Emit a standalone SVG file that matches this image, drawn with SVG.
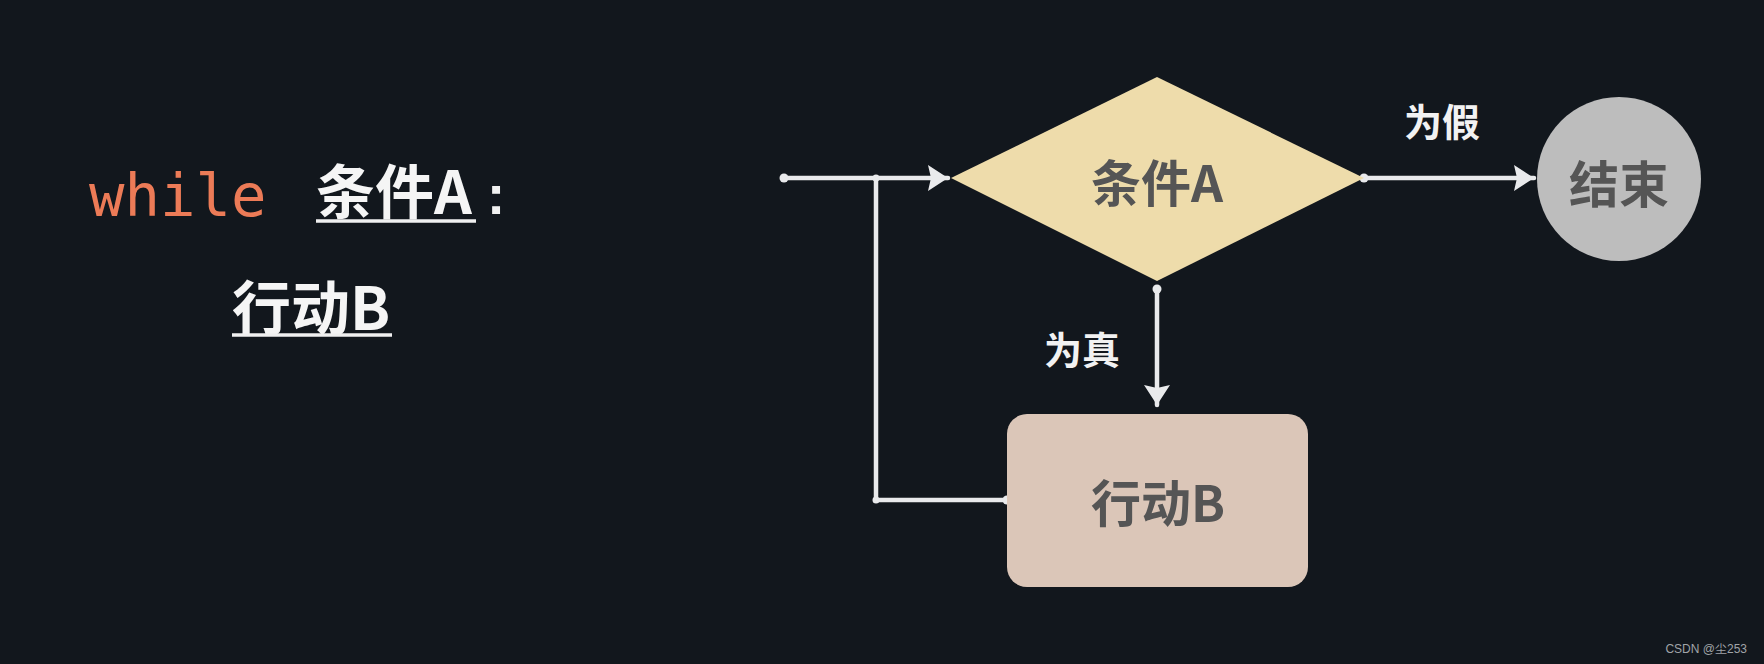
<svg xmlns="http://www.w3.org/2000/svg" width="1764" height="664" viewBox="0 0 1764 664">
<style>
.cjk{font-family:"Noto Sans CJK SC","Noto Sans",sans-serif;font-weight:700}
.node{fill:#555;font-size:50px;text-anchor:middle}
.lbl{fill:#f2f2f2;font-size:38px;text-anchor:middle}
.code{fill:#f5f5f5;font-size:59px;font-weight:700}
.conn{stroke:#e9eaec;stroke-width:4.5;fill:none;stroke-linecap:round;stroke-linejoin:round}
.dot{fill:#e9eaec}
.ul{stroke:#f0f0f0;stroke-width:3.5}
</style>
<defs>
<marker id="ah" viewBox="0 0 20 26" refX="20" refY="13" markerWidth="20" markerHeight="26" markerUnits="userSpaceOnUse" orient="auto">
<path d="M0,0 L20,13 L0,26 L3,13 Z" fill="#e9eaec"/>
</marker>
</defs>
<rect width="1764" height="664" fill="#12171d"/>
<g id="code">
<text x="89" y="216" font-family="'DejaVu Sans Mono',monospace" font-size="59" fill="#ec7b57">while</text>
<text class="cjk code" x="316" y="214">条件A</text>
<line class="ul" x1="316" y1="221" x2="476" y2="221"/>
<text x="496" y="214" font-family="'Liberation Sans',sans-serif" font-size="56" font-weight="700" fill="#f0f0f0" text-anchor="middle">:</text>
<text class="cjk code" x="232" y="330">行动B</text>
<line class="ul" x1="232" y1="335" x2="392" y2="335"/>
</g>
<g id="connectors">
<path class="conn" d="M784,178 L948,178" marker-end="url(#ah)"/>
<circle class="dot" cx="784" cy="178" r="4.5"/>
<path class="conn" d="M1007,500 L876,500 L876,178"/>
<circle class="dot" cx="1007" cy="500" r="4.5"/>
<circle class="dot" cx="876" cy="500" r="3.5"/>
<circle class="dot" cx="876" cy="178" r="3.5"/>
<path class="conn" d="M1157,289 L1157,405" marker-end="url(#ah)"/>
<circle class="dot" cx="1157" cy="289" r="4.5"/>
<path class="conn" d="M1364,178 L1534,178" marker-end="url(#ah)"/>
<circle class="dot" cx="1364" cy="178" r="4.5"/>
<text class="cjk lbl" x="1442" y="136">为假</text>
<text class="cjk lbl" x="1082" y="364">为真</text>
</g>
<g id="condA">
<polygon points="1157,77 1364,178 1157,281 951,178" fill="#eedcab"/>
<text class="cjk node" x="1157" y="202">条件A</text>
</g>
<g id="actionB">
<rect x="1007" y="414" width="301" height="173" rx="20" fill="#dbc6b8"/>
<text class="cjk node" x="1158" y="522">行动B</text>
</g>
<g id="end">
<circle cx="1619" cy="179" r="82" fill="#bdbdbd"/>
<text class="cjk node" x="1619" y="203">结束</text>
</g>
<text x="1747" y="653" font-family="'Liberation Sans',sans-serif" font-size="12" fill="#a0a4a8" text-anchor="end">CSDN @尘253</text>
</svg>
